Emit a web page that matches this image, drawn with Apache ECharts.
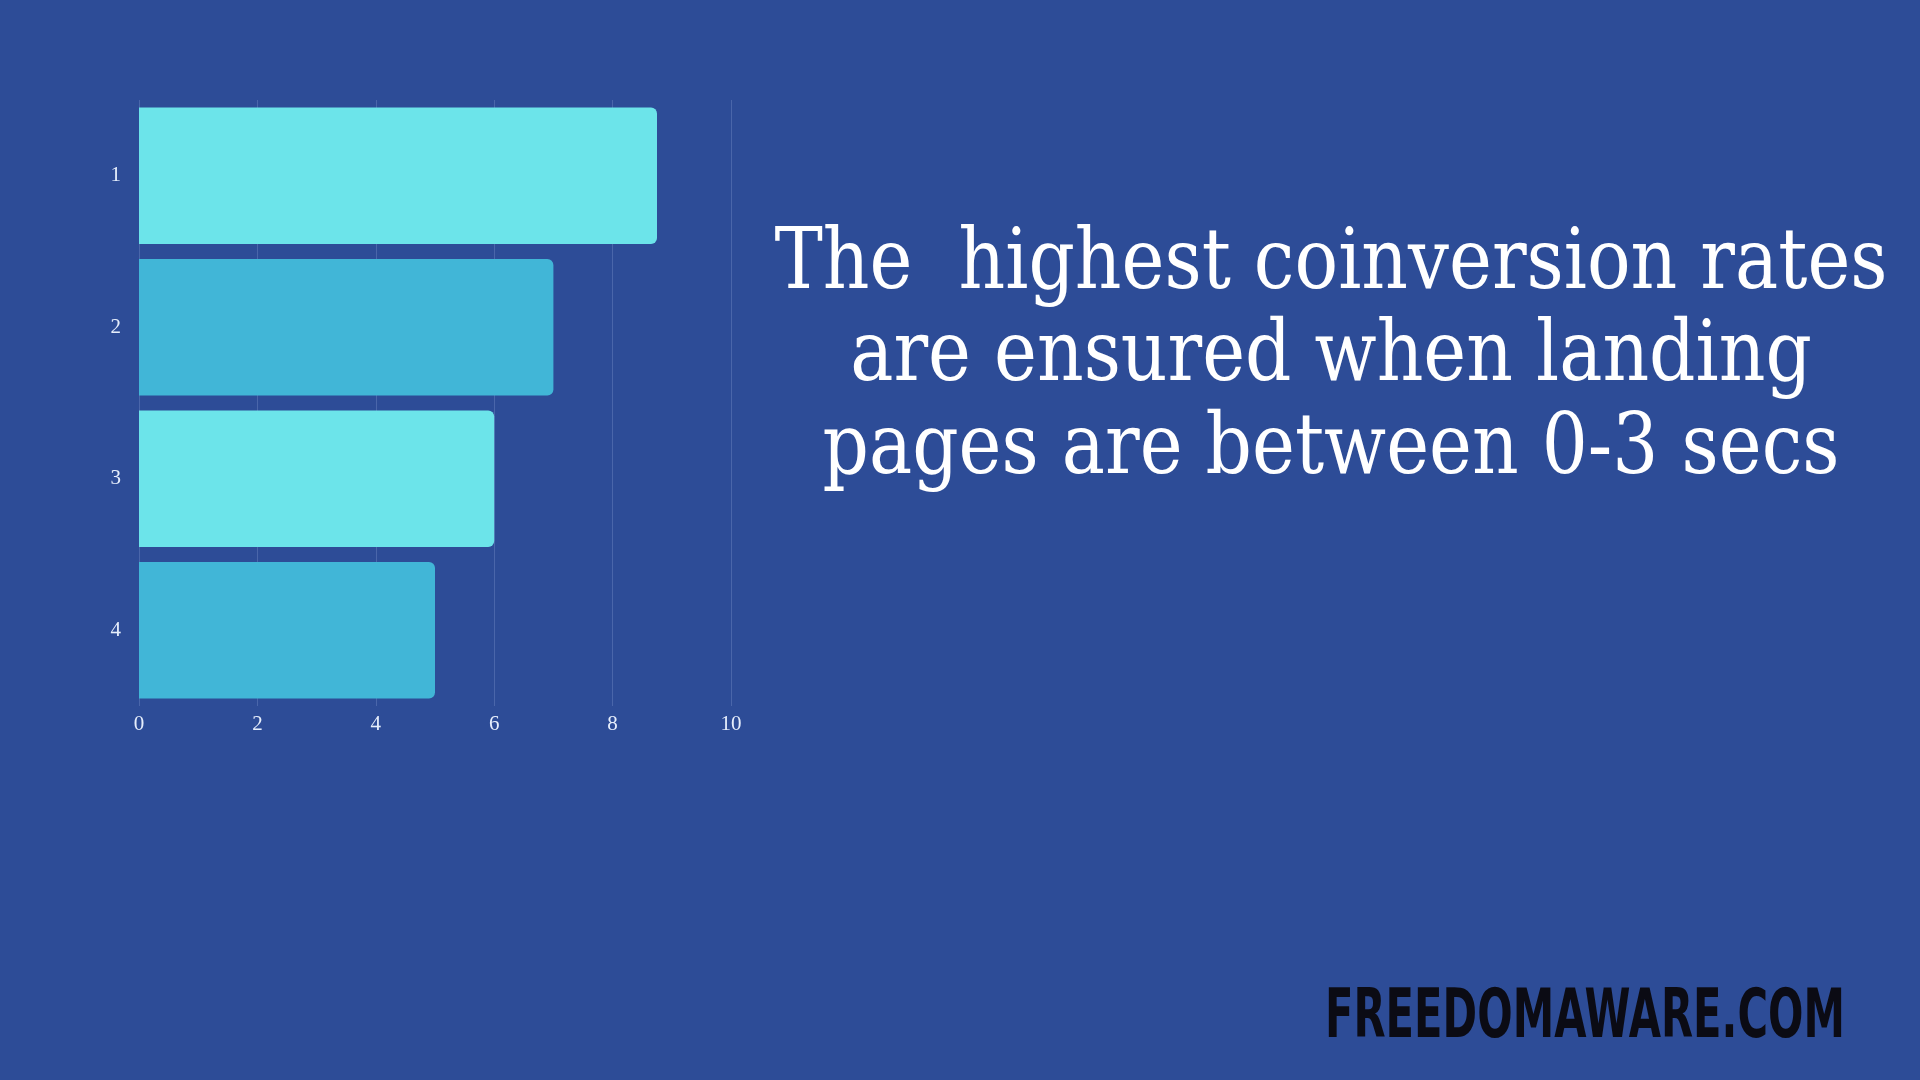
<!DOCTYPE html>
<html>
<head>
<meta charset="utf-8">
<script src="https://cdn.jsdelivr.net/npm/echarts@6/dist/echarts.min.js"></script>
<style>
html,body{margin:0;padding:0;background:#2d4c97;}
#chart{width:1920px;height:1080px;}
</style>
</head>
<body>
<div id="chart"></div>
<script>
const categories = ['1', '2', '3', '4'];
const values = [8.75, 7, 6, 5];
const barColors = ['#6ce4ea', '#41b6d7', '#6ce4ea', '#41b6d7'];
const xTicks = [0, 2, 4, 6, 8, 10];
const titleLines = ['The  highest coinversion rates', 'are ensured when landing', 'pages are between 0-3 secs'];
const watermark = 'FREEDOMAWARE.COM';

const chart = echarts.init(document.getElementById('chart'));
const serif = '"Liberation Serif", "DejaVu Serif", serif';
const titleFont = '84px "DejaVu Serif", serif';
const markFont = 'bold 67px "DejaVu Sans", sans-serif';

const ctx = document.createElement('canvas').getContext('2d');
function widthOf(text, font) { ctx.font = font; return ctx.measureText(text).width; }
const titleScale = 1113 / widthOf(titleLines[0], titleFont);
const markScale = 520 / widthOf(watermark, markFont);

const graphics = titleLines.map((t, i) => ({
  type: 'text',
  x: 1331,
  y: 266 + i * 92.5,
  scaleX: titleScale,
  style: {
    text: t,
    x: 0,
    y: 0,
    textAlign: 'center',
    textVerticalAlign: 'middle',
    font: titleFont,
    fill: '#ffffff'
  }
}));
graphics.push({
  type: 'text',
  x: 1585,
  y: 1020,
  scaleX: markScale,
  style: {
    text: watermark,
    x: 0,
    y: 0,
    textAlign: 'center',
    textVerticalAlign: 'middle',
    font: markFont,
    fill: '#0b0b14'
  }
});

chart.setOption({
  backgroundColor: '#2d4c97',
  animation: false,
  grid: { left: 139, right: 1189, top: 100, bottom: 374, containLabel: false },
  xAxis: {
    type: 'value',
    min: xTicks[0],
    max: xTicks[xTicks.length - 1],
    interval: xTicks[1] - xTicks[0],
    axisLine: { show: false },
    axisTick: { show: false },
    axisLabel: { color: '#e6eefc', fontFamily: serif, fontSize: 21, margin: 8 },
    splitLine: { show: true, lineStyle: { color: '#4a66aa', width: 1 } }
  },
  yAxis: {
    type: 'category',
    data: categories,
    inverse: true,
    axisLine: { show: false },
    axisTick: { show: false },
    axisLabel: { color: '#e6eefc', fontFamily: serif, fontSize: 21, margin: 18 }
  },
  series: [{
    type: 'bar',
    data: values.map((v, i) => ({ value: v, itemStyle: { color: barColors[i] } })),
    barCategoryGap: '10%',
    itemStyle: { borderRadius: [0, 6, 6, 0] }
  }],
  graphic: graphics
});
</script>
</body>
</html>
